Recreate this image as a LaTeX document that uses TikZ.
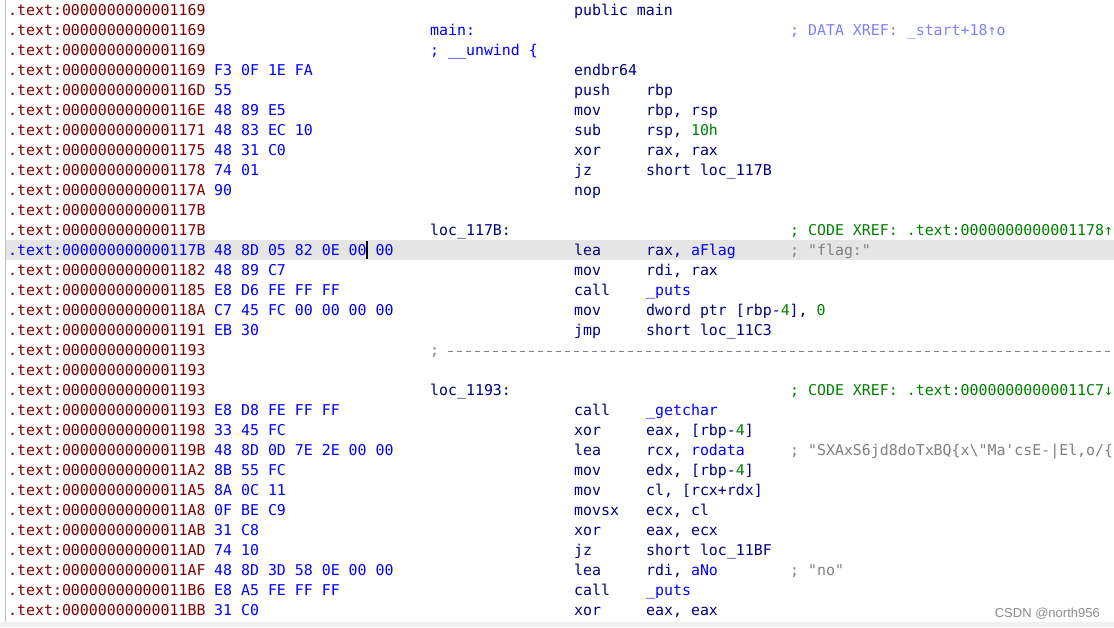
\documentclass[tikz,border=0pt]{standalone}
\usepackage{fontspec}
\newfontfamily\mono{DejaVu Sans Mono}
\newfontfamily\wm{Liberation Sans}
\definecolor{adr}{RGB}{128,0,0}
\definecolor{hx}{RGB}{0,0,255}
\definecolor{nv}{RGB}{0,0,128}
\definecolor{gr}{RGB}{0,128,0}
\definecolor{xr}{RGB}{128,128,255}
\definecolor{cmt}{RGB}{128,128,128}
\newcommand\G[1]{\textcolor{gr}{#1}}
\newcommand\B[1]{\textcolor{hx}{#1}}
\tikzset{t/.style={anchor=base west,inner sep=0pt,font=\mono\fontsize{14.9}{15}\selectfont}}
\newcommand\R[6]{%
 \node[t,text=adr] (a#1) at (8pt,{-(15pt+20pt*#1)}) {#2};
 \node[t,text=hx] (b#1) at (214pt,{-(15pt+20pt*#1)}) {#3};
 \node[t,text=nv] (m#1) at (574pt,{-(15pt+20pt*#1)}) {#4};
 \node[t,text=nv] (o#1) at (646pt,{-(15pt+20pt*#1)}) {#5};
 \node[t,text=cmt] (c#1) at (790pt,{-(15pt+20pt*#1)}) {#6};}
\begin{document}
\begin{tikzpicture}[x=1pt,y=1pt]
\useasboundingbox (0,0) rectangle (1114,-627);
\clip (0,0) rectangle (1114,-627);
\fill[white] (0,0) rectangle (1114,-627);
\fill[black!10] (5,-240) rectangle (1114,-260);
\fill[black!6] (0,-622) rectangle (1114,-627);
\draw[black!25] (5,0) -- (5,-622);
\R{0}{.text:0000000000001169}{}{public main}{}{}
\R{1}{.text:0000000000001169}{}{}{}{\textcolor{xr}{; DATA XREF: \_start+18↑o}}
\R{2}{.text:0000000000001169}{}{}{}{}
\R{3}{.text:0000000000001169}{F3 0F 1E FA}{endbr64}{}{}
\R{4}{.text:000000000000116D}{55}{push}{rbp}{}
\R{5}{.text:000000000000116E}{48 89 E5}{mov}{rbp, rsp}{}
\R{6}{.text:0000000000001171}{48 83 EC 10}{sub}{rsp, \G{10h}}{}
\R{7}{.text:0000000000001175}{48 31 C0}{xor}{rax, rax}{}
\R{8}{.text:0000000000001178}{74 01}{jz}{short loc\_117B}{}
\R{9}{.text:000000000000117A}{90}{nop}{}{}
\R{10}{.text:000000000000117B}{}{}{}{}
\R{11}{.text:000000000000117B}{}{}{}{\G{; CODE XREF: .text:0000000000001178↑}}
\R{12}{\textcolor{hx}{.text:000000000000117B}}{48 8D 05 82 0E 00 00}{lea}{rax, \B{aFlag}}{; "flag:"}
\R{13}{.text:0000000000001182}{48 89 C7}{mov}{rdi, rax}{}
\R{14}{.text:0000000000001185}{E8 D6 FE FF FF}{call}{\B{\_puts}}{}
\R{15}{.text:000000000000118A}{C7 45 FC 00 00 00 00}{mov}{dword ptr [rbp-\G{4}], \G{0}}{}
\R{16}{.text:0000000000001191}{EB 30}{jmp}{short loc\_11C3}{}
\R{17}{.text:0000000000001193}{}{}{}{}
\R{18}{.text:0000000000001193}{}{}{}{}
\R{19}{.text:0000000000001193}{}{}{}{\G{; CODE XREF: .text:00000000000011C7↓}}
\R{20}{.text:0000000000001193}{E8 D8 FE FF FF}{call}{\B{\_getchar}}{}
\R{21}{.text:0000000000001198}{33 45 FC}{xor}{eax, [rbp-\G{4}]}{}
\R{22}{.text:000000000000119B}{48 8D 0D 7E 2E 00 00}{lea}{rcx, \B{rodata}}{; "SXAxS6jd8doTxBQ\{x\textbackslash"Ma'csE-\textbar El,o/\{}
\R{23}{.text:00000000000011A2}{8B 55 FC}{mov}{edx, [rbp-\G{4}]}{}
\R{24}{.text:00000000000011A5}{8A 0C 11}{mov}{cl, [rcx+rdx]}{}
\R{25}{.text:00000000000011A8}{0F BE C9}{movsx}{ecx, cl}{}
\R{26}{.text:00000000000011AB}{31 C8}{xor}{eax, ecx}{}
\R{27}{.text:00000000000011AD}{74 10}{jz}{short loc\_11BF}{}
\R{28}{.text:00000000000011AF}{48 8D 3D 58 0E 00 00}{lea}{rdi, \B{aNo}}{; "no"}
\R{29}{.text:00000000000011B6}{E8 A5 FE FF FF}{call}{\B{\_puts}}{}
\R{30}{.text:00000000000011BB}{31 C0}{xor}{eax, eax}{}
\node[t,text=hx] (l1) at (430,-35) {main:};
\node[t,text=hx] (l2) at (430,-55) {; \_\_unwind \{};
\node[t,text=nv] (l3) at (430,-235) {loc\_117B:};
\node[t,text=nv] (l4) at (430,-395) {loc\_1193:};
\node[t,text=cmt] (sep) at (430,-355) {;};
\draw[cmt,dash pattern=on 5pt off 4pt] (448,-351) -- (1114,-351);
\fill[black] (366,-241) rectangle (368,-259);
\node[anchor=base east,inner sep=0pt,text=black!45,font=\wm\fontsize{13}{13}\selectfont] (wm) at (1100,-617) {CSDN @north956};
\end{tikzpicture}
\end{document}
